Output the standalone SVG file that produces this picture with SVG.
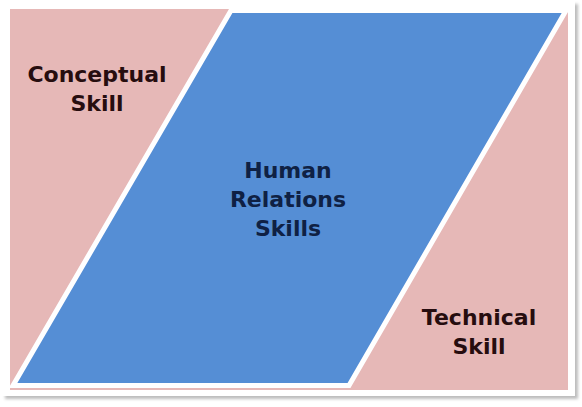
<svg xmlns="http://www.w3.org/2000/svg" width="582" height="407" viewBox="0 0 582 407">
  <defs>
    <filter id="shadow" x="-5%" y="-5%" width="110%" height="110%">
      <feGaussianBlur stdDeviation="1.5"/>
    </filter>
  </defs>
  <style>
    .lbl { font-family: "DejaVu Sans", Verdana, sans-serif; font-weight: bold; font-size: 22px; text-anchor: middle; }
    .pinktxt { fill: #260d0f; }
    .bluetxt { fill: #0f2144; }
    .pink { fill: #e6b8b7; }
    .blue { fill: #558ed5; stroke: #ffffff; stroke-width: 5; stroke-linejoin: miter; }
  </style>
  <rect x="0" y="0" width="582" height="407" fill="#ffffff"/>
  <g id="frame">
    <rect x="5" y="4" width="573" height="395" fill="#bdbdbd" filter="url(#shadow)"/>
    <rect x="2" y="0" width="573" height="396" fill="#ffffff"/>
  </g>
  <g id="conceptual">
    <rect class="pink" x="10" y="9" width="558" height="381"/>
    <text class="lbl pinktxt" x="97" y="82">Conceptual</text>
    <text class="lbl pinktxt" x="97" y="111">Skill</text>
  </g>
  <g id="technical">
    <text class="lbl pinktxt" x="479" y="325">Technical</text>
    <text class="lbl pinktxt" x="479" y="354">Skill</text>
  </g>
  <g id="human">
    <polygon class="blue" points="231,10.5 566,10.5 349,385.5 13,385.5"/>
    <text class="lbl bluetxt" x="288" y="178">Human</text>
    <text class="lbl bluetxt" x="288" y="207">Relations</text>
    <text class="lbl bluetxt" x="288" y="236">Skills</text>
  </g>
  <g id="connectors"></g>
</svg>
